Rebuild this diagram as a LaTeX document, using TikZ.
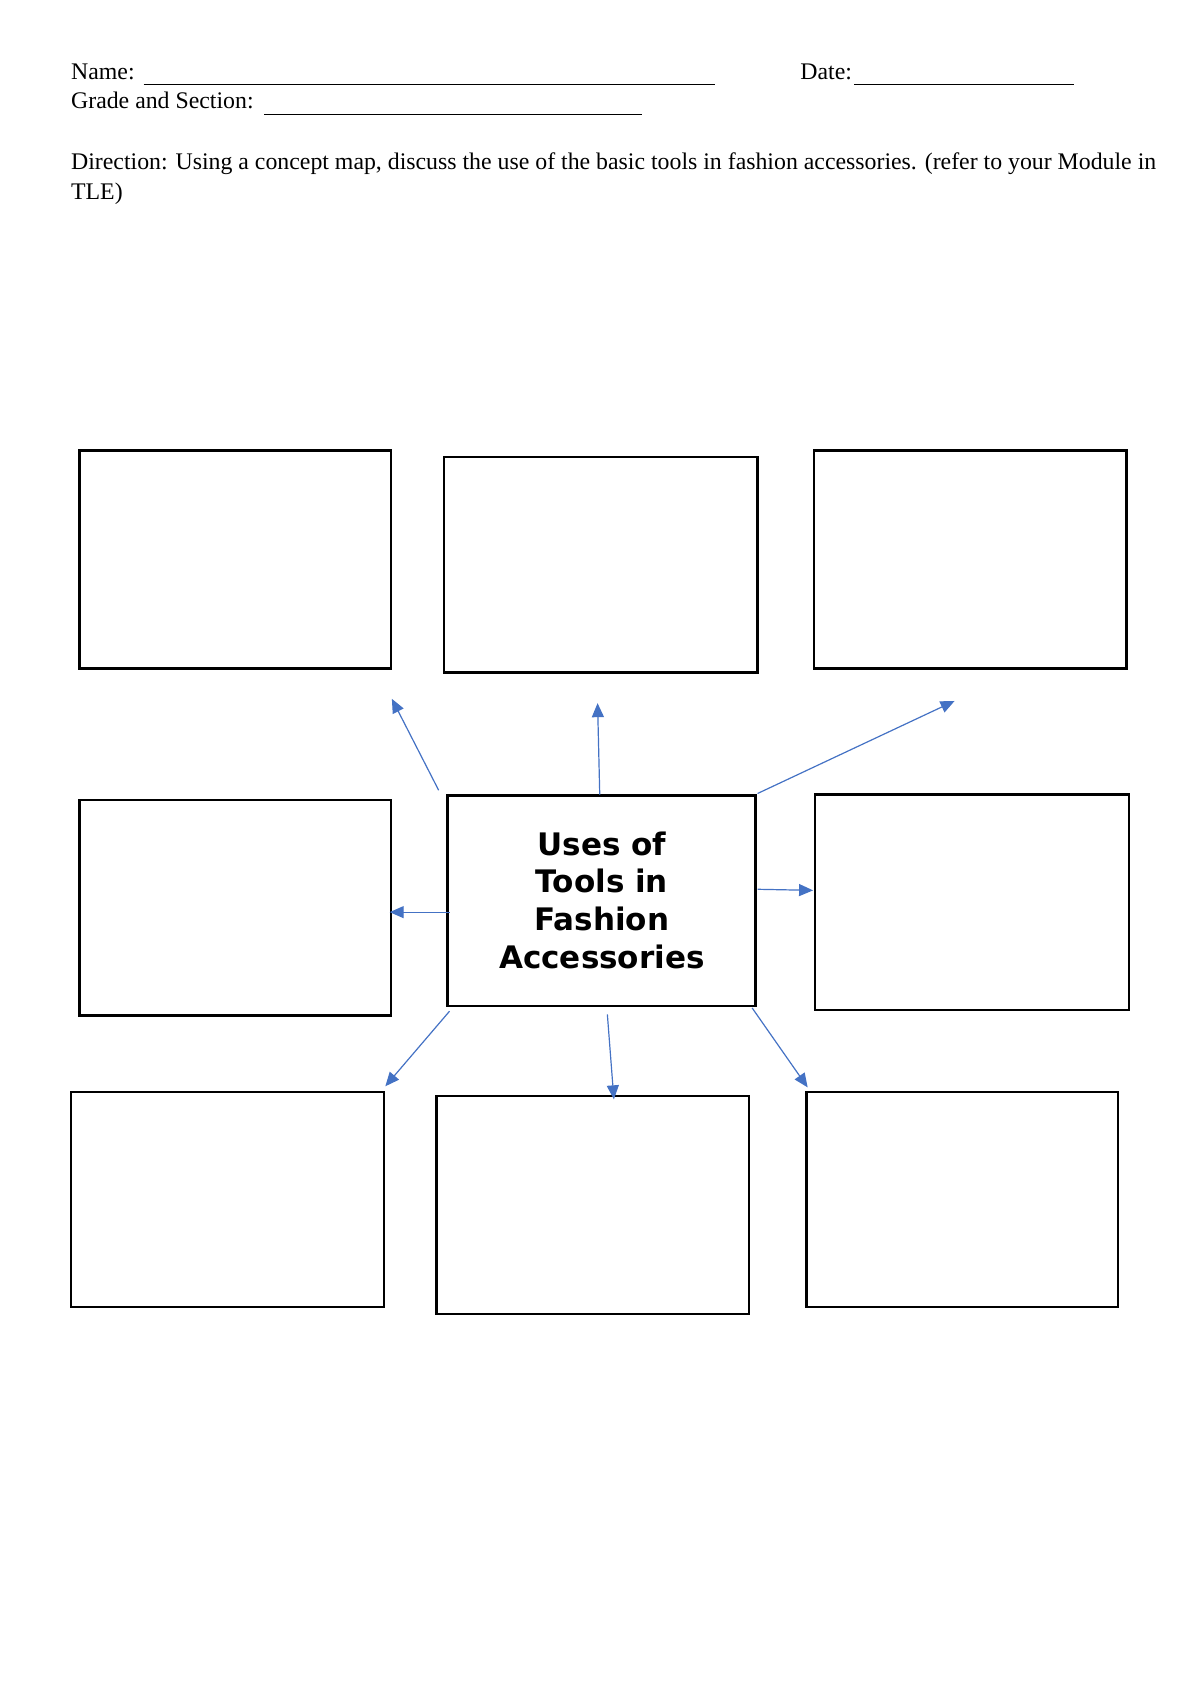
\documentclass[tikz,border=0pt]{standalone}
\usepackage{fontspec}
\setmainfont{Liberation Serif}
\newfontfamily\boxfont{DejaVu Sans}
\usetikzlibrary{arrows.meta}
\definecolor{arr}{RGB}{68,114,196}
\begin{document}
\begin{tikzpicture}[x=0.544pt,y=-0.544pt,
  bx/.style={draw,line width=1.2pt},
  ar/.style={draw=arr,line width=0.6pt,-{Triangle[width=6pt,length=7pt]}},
  txt/.style={anchor=base west,inner sep=0pt,font=\fontsize{11.9}{13}\selectfont}]
\useasboundingbox (0,0) rectangle (1103,1560);
\node[txt] (n) at (65,73) {Name:};
\node[txt] (d) at (735,73) {Date:};
\node[txt] (g) at (65,100) {Grade and Section:};
\draw[line width=0.5pt] (132,78) coordinate (n1) -- (657,78) coordinate (n2);
\draw[line width=0.5pt] (785,78) coordinate (d1) -- (987,78) coordinate (d2);
\draw[line width=0.5pt] (243,105) coordinate (g1) -- (590,105) coordinate (g2);
\node[txt] (dir1) at (65,156) {Direction: Using a concept map, discuss the use of the basic tools in fashion accessories. (refer to your Module in};
\node[txt] (dir2) at (65,183) {TLE)};
\draw[bx] (73,414) rectangle (359,614);
\draw[bx] (408,420) rectangle (696,618);
\draw[bx] (748,414) rectangle (1035,614);
\draw[bx] (73,735) rectangle (359,933);
\draw[bx] (749,730) rectangle (1037,928);
\draw[bx] (65,1003) rectangle (353,1201);
\draw[bx] (401,1007) rectangle (688,1207);
\draw[bx] (741,1003) rectangle (1027,1201);
\draw[bx] (411,731) rectangle (694,924);
\node[align=center,font=\boxfont\bfseries\fontsize{15.5}{18.8}\selectfont] (c) at (553,827) {Uses of\\Tools in\\Fashion\\Accessories};
\coordinate (s1) at (403,726); \coordinate (t1) at (360,642);
\coordinate (s2) at (551,730); \coordinate (t2) at (549,646);
\coordinate (s3) at (696,729); \coordinate (t3) at (877,644);
\coordinate (s4) at (413,838); \coordinate (t4) at (358,838);
\coordinate (s5) at (696,817); \coordinate (t5) at (747,818);
\coordinate (s6) at (413,929); \coordinate (t6) at (354,998);
\coordinate (s7) at (558,932); \coordinate (t7) at (564,1010);
\coordinate (s8) at (691,926); \coordinate (t8) at (742,999);
\foreach \i in {1,...,8} \draw[ar] (s\i) -- (t\i);
\end{tikzpicture}
\end{document}
